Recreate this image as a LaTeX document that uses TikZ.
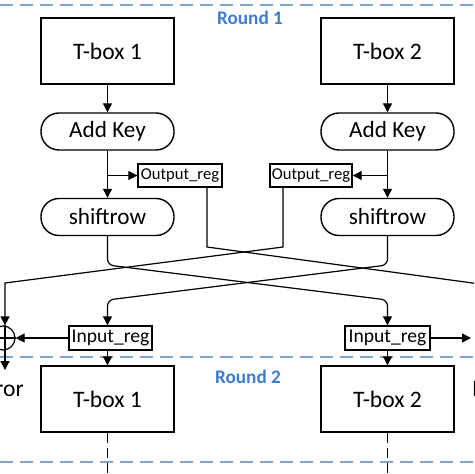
\documentclass[tikz,border=0pt]{standalone}
\usepackage{fontspec}
\setmainfont{Carlito}
\usetikzlibrary{arrows.meta}
\definecolor{rndblue}{HTML}{3C7DD0}
\definecolor{lineblue}{HTML}{7FA6CA}
\begin{document}
\begin{tikzpicture}[x=0.5pt,y=-0.5pt,line width=0.6pt,
  >={Triangle[length=4.5pt,width=4.5pt]},
  tbox/.style={draw,line width=0.7pt,minimum width=66.5pt,minimum height=33pt,inner sep=0pt,font=\fontsize{11.8}{13}\selectfont},
  opbox/.style={draw,line width=0.7pt,rounded corners=9pt,minimum width=66.5pt,minimum height=18.5pt,inner sep=0pt,font=\fontsize{11.6}{13}\selectfont},
  regbox/.style={draw,line width=0.7pt,minimum height=11.5pt,inner sep=0pt},
  roundtxt/.style={text=rndblue,font=\bfseries\fontsize{9.6}{11}\selectfont},
  roundline/.style={lineblue,dash pattern=on 6.5pt off 3.5pt,line width=0.6pt}]
  \useasboundingbox (0,0) rectangle (474,474);
  \clip (0,0) rectangle (474,474);
  % round borders
  \draw[roundline] (0,5) -- (474,5);
  \draw[roundline] (0,357) -- (474,357);
  \draw[roundline] (0,462) -- (474,462);
  \node[roundtxt] (rnd1) at (250,18) {Round 1};
  \node[roundtxt] (rnd2) at (248,377) {Round 2};
  % round 1
  \node[tbox] (tb1) at (107.5,51) {T-box 1};
  \node[tbox] (tb2) at (387.5,51) {T-box 2};
  \node[opbox] (ak1) at (107.5,131.5) {Add Key};
  \node[opbox] (ak2) at (387.5,131.5) {Add Key};
  \node[regbox,minimum width=42pt,font=\fontsize{8.3}{10}\selectfont] (or1) at (180,175.5) {Output\_reg};
  \node[regbox,minimum width=41pt,font=\fontsize{8.3}{10}\selectfont] (or2) at (311,175.5) {Output\_reg};
  \node[opbox] (sr1) at (107.5,217) {shiftrow};
  \node[opbox] (sr2) at (387.5,217) {shiftrow};
  \draw[->] (tb1) -- (ak1);
  \draw[->] (tb2) -- (ak2);
  \draw[->] (ak1) -- (sr1);
  \draw[->] (ak2) -- (sr2);
  \draw[->] (107.5,0 |- or1.west) -- (or1.west);
  \draw[->] (387.5,0 |- or2.east) -- (or2.east);
  % round 2
  \node[regbox,minimum width=41.5pt,minimum height=12pt,font=\fontsize{9.8}{11}\selectfont] (ir1) at (110.5,338) {Input\_reg};
  \node[regbox,minimum width=42.5pt,minimum height=12pt,font=\fontsize{9.8}{11}\selectfont] (ir2) at (387.5,338) {Input\_reg};
  \node[draw,circle,minimum size=12pt,inner sep=0pt] (xor) at (3,338) {};
  \draw (xor.west) -- (xor.east);
  \draw (5,0 |- xor.north) -- (5,0 |- xor.south);
  \node[tbox] (tb3) at (107.5,399) {T-box 1};
  \node[tbox] (tb4) at (387.5,399) {T-box 2};
  \node[anchor=east,font=\fontsize{11.8}{13}\selectfont] (err1) at (31,389) {Error};
  \node[anchor=west,font=\fontsize{11.8}{13}\selectfont] (err2) at (465,389) {Error};
  % crossing wires
  \draw[->,rounded corners=3pt] (sr1.south) -- (107.5,265) -- (387.5,300) -- (ir2.north);
  \draw[->,rounded corners=3pt] (sr2.south) -- (387.5,265) -- (107.5,300) -- (107.5,0 |- ir1.north);
  \draw (207,0 |- or1.south) -- (207,247) -- (480,284);
  \draw[->] (283,0 |- or2.south) -- (283,247) -- (5,283) -- (5,0 |- xor.north);
  \draw[->] (ir1.west) -- (xor.east);
  \draw[->] (5,0 |- xor.south) -- (5,370);
  \draw[->] (ir2.east) -- (471,338);
  \draw[->] (107.5,0 |- ir1.south) -- (tb3.north);
  \draw[->] (ir2.south) -- (tb4.north);
  \draw[dash pattern=on 5pt off 2.5pt] (tb3.south) -- (107.5,474);
  \draw[dash pattern=on 5pt off 2.5pt] (tb4.south) -- (387.5,474);
\end{tikzpicture}
\end{document}
